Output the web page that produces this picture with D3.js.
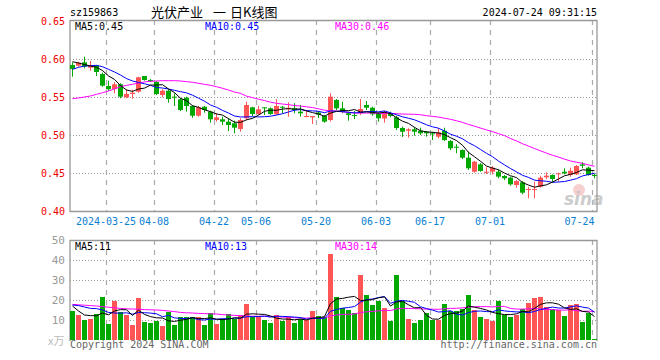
<!DOCTYPE html>
<html><head><meta charset="utf-8">
<script src="https://cdn.jsdelivr.net/npm/d3@7"></script>
<style>body{margin:0;background:#fff}svg{display:block}</style>
</head><body>
<svg id="c" width="660" height="360"></svg>
<script>
const dates = [
"2024-03-15","2024-03-18","2024-03-19","2024-03-20","2024-03-21","2024-03-22","2024-03-25","2024-03-26","2024-03-27","2024-03-28","2024-03-29",
"2024-04-01","2024-04-02","2024-04-03","2024-04-08","2024-04-09","2024-04-10","2024-04-11","2024-04-12","2024-04-15","2024-04-16","2024-04-17","2024-04-18","2024-04-19","2024-04-22","2024-04-23","2024-04-24","2024-04-25","2024-04-26","2024-04-29","2024-04-30",
"2024-05-06","2024-05-07","2024-05-08","2024-05-09","2024-05-10","2024-05-13","2024-05-14","2024-05-15","2024-05-16","2024-05-17","2024-05-20","2024-05-21","2024-05-22","2024-05-23","2024-05-24","2024-05-27","2024-05-28","2024-05-29","2024-05-30","2024-05-31",
"2024-06-03","2024-06-04","2024-06-05","2024-06-06","2024-06-07","2024-06-11","2024-06-12","2024-06-13","2024-06-14","2024-06-17","2024-06-18","2024-06-19","2024-06-20","2024-06-21","2024-06-24","2024-06-25","2024-06-26","2024-06-27","2024-06-28",
"2024-07-01","2024-07-02","2024-07-03","2024-07-04","2024-07-05","2024-07-08","2024-07-09","2024-07-10","2024-07-11","2024-07-12","2024-07-15","2024-07-16","2024-07-17","2024-07-18","2024-07-19","2024-07-22","2024-07-23","2024-07-24"];

const open = [0.5923,0.5913,0.5958,0.5887,0.5913,0.5804,0.5647,0.5608,0.5669,0.5499,0.5542,0.5572,0.5778,0.5726,0.5700,0.5529,0.5585,0.5507,0.5472,0.5493,0.5385,0.5257,0.5375,0.5310,0.5201,0.5210,0.5179,0.5158,0.5083,0.5223,0.5367,0.5280,0.5367,0.5354,0.5276,0.5375,0.5345,0.5354,0.5310,0.5244,0.5236,0.5299,0.5253,0.5201,0.5463,0.5354,0.5289,0.5266,0.5289,0.5398,0.5362,0.5289,0.5220,0.5289,0.5236,0.5096,0.5060,0.5079,0.5060,0.5047,0.5026,0.4982,0.5060,0.4925,0.4850,0.4807,0.4706,0.4522,0.4619,0.4509,0.4522,0.4522,0.4466,0.4444,0.4348,0.4383,0.4282,0.4282,0.4325,0.4449,0.4479,0.4488,0.4522,0.4479,0.4488,0.4619,0.4575,0.4479];
const high = [0.5958,0.5966,0.6031,0.5975,0.5923,0.5822,0.5717,0.5696,0.5682,0.5604,0.5598,0.5769,0.5778,0.5739,0.5709,0.5604,0.5604,0.5551,0.5486,0.5507,0.5398,0.5385,0.5385,0.5323,0.5289,0.5244,0.5223,0.5192,0.5223,0.5441,0.5375,0.5385,0.5367,0.5367,0.5473,0.5385,0.5433,0.5420,0.5398,0.5332,0.5253,0.5319,0.5266,0.5551,0.5476,0.5441,0.5310,0.5319,0.5476,0.5450,0.5375,0.5302,0.5323,0.5310,0.5257,0.5113,0.5092,0.5105,0.5100,0.5056,0.5047,0.5092,0.5100,0.4938,0.4882,0.4816,0.4785,0.4663,0.4633,0.4580,0.4597,0.4545,0.4479,0.4457,0.4413,0.4400,0.4325,0.4391,0.4470,0.4514,0.4488,0.4509,0.4567,0.4575,0.4610,0.4646,0.4588,0.4501];
const low = [0.5769,0.5900,0.5879,0.5848,0.5778,0.5638,0.5585,0.5551,0.5486,0.5486,0.5480,0.5559,0.5717,0.5700,0.5529,0.5499,0.5428,0.5385,0.5319,0.5310,0.5231,0.5244,0.5297,0.5165,0.5179,0.5135,0.5056,0.5026,0.5047,0.5201,0.5253,0.5266,0.5266,0.5266,0.5266,0.5289,0.5244,0.5289,0.5244,0.5236,0.5148,0.5227,0.5165,0.5179,0.5332,0.5289,0.5192,0.5214,0.5266,0.5332,0.5257,0.5179,0.5165,0.5236,0.5070,0.4978,0.4969,0.4995,0.5004,0.4982,0.4938,0.4961,0.4925,0.4807,0.4764,0.4689,0.4545,0.4509,0.4522,0.4492,0.4488,0.4436,0.4413,0.4339,0.4312,0.4226,0.4173,0.4173,0.4312,0.4427,0.4391,0.4391,0.4488,0.4457,0.4479,0.4567,0.4470,0.4436];
const close = [0.5870,0.5953,0.5900,0.5913,0.5831,0.5651,0.5604,0.5669,0.5507,0.5542,0.5559,0.5761,0.5726,0.5709,0.5542,0.5585,0.5476,0.5493,0.5332,0.5385,0.5257,0.5367,0.5332,0.5210,0.5236,0.5179,0.5135,0.5100,0.5201,0.5398,0.5280,0.5341,0.5354,0.5280,0.5385,0.5362,0.5362,0.5332,0.5289,0.5253,0.5253,0.5273,0.5179,0.5507,0.5354,0.5310,0.5266,0.5253,0.5345,0.5362,0.5276,0.5223,0.5306,0.5253,0.5096,0.5047,0.5079,0.5047,0.5026,0.5026,0.5013,0.5039,0.4938,0.4829,0.4837,0.4706,0.4567,0.4654,0.4532,0.4522,0.4575,0.4457,0.4436,0.4357,0.4400,0.4247,0.4295,0.4295,0.4444,0.4470,0.4427,0.4501,0.4501,0.4535,0.4597,0.4601,0.4479,0.4466];
const volume = [14.5,12.5,10,10.5,13,21.5,8,19.5,14,12.5,7.5,21,9,8.5,9.5,7,14,7.5,11.5,11.5,11.5,11.5,7.5,13.5,8,10.5,13,10.5,12.5,18,11.5,12,10,8.5,12.5,9.5,11.5,8.5,10.5,10,14.5,12,11.5,43,21.5,16,15,13.5,32.5,22.5,17.5,19.5,16,9.5,32.5,19.5,10.5,8.5,10,13.5,10,10,18,14.5,14.5,15.5,22.5,15,11.5,10.5,9.5,19.5,12.5,11.5,12.5,15.5,18.5,21,21.5,16.5,15.5,15,12,17.5,18,9,13.5,0.5];

const priceMA5Lead = [0.5966,0.5949,0.5929,0.5909];
const priceMA10Lead = [0.5866,0.5892,0.5909,0.5913,0.5918,0.5900,0.5866,0.5831,0.5791];
const priceMA30Lead = [0.5480,0.5490,0.5503,0.5516,0.5538,0.5559,0.5581,0.5608,0.5638,0.5656,0.5669,0.5686,0.5700,0.5709,0.5713,0.5717,0.5717,0.5717,0.5713,0.5704,0.5696,0.5682,0.5669,0.5656,0.5638,0.5617,0.5594,0.5568,0.5551];
const volMA5Lead = [17,14.5,12.5,12.2];
const volMA10Lead = [17.5,17.2,16.5,15.8,15.7,15.0,13.8,13.5,13.4];
const volMA30Lead = [17.8,17.6,17.4,17.2,17.0,16.7,16.4,16.1,15.8,15.6,15.5,15.4,15.2,15.1,15.0,14.8,14.5,14.2,13.8,13.6,13.5,13.3,13.2,13.1,13.0,12.7,12.5,12.3,12.2];

const priceTicks = [0.40,0.45,0.50,0.55,0.60,0.65];
const volTicks = [10,20,30,40,50];
const tickDates = ["2024-03-25","2024-04-08","2024-04-22","2024-05-06","2024-05-20","2024-06-03","2024-06-17","2024-07-01","2024-07-24"];
const tickLabels = ["2024-03-25","04-08","04-22","05-06","05-20","06-03","06-17","07-01","07-24"];
const priceMaLabels = ["MA5:0.45","MA10:0.45","MA30:0.46"];
const volMaLabels = ["MA5:11","MA10:13","MA30:14"];
const symbol = "sz159863";
const titleParts = ["光伏产业","一","日K线图"];
const stamp = "2024-07-24 09:31:15";

function movingAvg(arr, n, lead) {
  return arr.map((v, i) => i < n - 1 ? lead[i] : d3.mean(arr.slice(i - n + 1, i + 1)));
}

const RED = "#ff5555", GREEN = "#00a800";
const maColors = ["#000000", "#0000ff", "#ff00ff"];
const mono = "'DejaVu Sans Mono', monospace";
const L = 70, R = 597;
const svg = d3.select("#c");

const x = d3.scaleBand().domain(dates).range([L, R]).paddingInner(1/6).paddingOuter(0);
const bw = x.bandwidth();
const y = d3.scaleLinear().domain([0.40, 0.65]).range([211.5, 21]);
const yv = d3.scaleLinear().domain([0, 50]).range([340, 240]);

const grid = svg.append("g");
// horizontal dotted grid
grid.selectAll(".hp").data(priceTicks.filter(t => t > 0.40 && t < 0.65)).join("line")
  .attr("x1", L).attr("x2", R).attr("y1", d => Math.round(y(d)) + 0.5).attr("y2", d => Math.round(y(d)) + 0.5)
  .attr("stroke", "#999").attr("stroke-dasharray", "1,2");
grid.selectAll(".hv").data(volTicks.filter(t => t < 50)).join("line")
  .attr("x1", L).attr("x2", R).attr("y1", d => Math.round(yv(d)) + 0.5).attr("y2", d => Math.round(yv(d)) + 0.5)
  .attr("stroke", "#999").attr("stroke-dasharray", "1,2");
// vertical dashed grid
tickDates.forEach(d => {
  const xx = x(d) + 0.5;
  grid.append("line").attr("x1", xx).attr("x2", xx).attr("y1", 20).attr("y2", 211)
    .attr("stroke", "#aaa").attr("stroke-width", 1.2).attr("stroke-dasharray", "5,5");
  grid.append("line").attr("x1", xx).attr("x2", xx).attr("y1", 240).attr("y2", 340)
    .attr("stroke", "#aaa").attr("stroke-width", 1.2).attr("stroke-dasharray", "5,5");
});

// watermark
svg.append("circle").attr("cx", 579).attr("cy", 190).attr("r", 6).attr("fill", "#f7cfcf");
svg.append("text").attr("x", 564).attr("y", 205).text("sina")
  .attr("font-family", "'DejaVu Sans', sans-serif").attr("font-size", 17).attr("font-style", "italic")
  .attr("font-weight", "bold").attr("fill", "#c4c4c4").attr("opacity", 0.85);

// frames
svg.append("path").attr("d", `M${L},20.5H${R}V211.5H${L}Z`).attr("fill", "none").attr("stroke", "#999").attr("stroke-width", 1.3);
svg.append("path").attr("d", `M${L},341V240.5H${R}V341`).attr("fill", "none").attr("stroke", "#999").attr("stroke-width", 1.3);

// candles
const idx = d3.range(dates.length);
const col = i => close[i] >= open[i] ? RED : GREEN;
const cg = svg.append("g");
cg.selectAll("line").data(idx).join("line")
  .attr("x1", i => x(dates[i]) + bw / 2).attr("x2", i => x(dates[i]) + bw / 2)
  .attr("y1", i => y(high[i])).attr("y2", i => y(low[i]))
  .attr("stroke", col).attr("stroke-width", 1);
cg.selectAll("rect").data(idx).join("rect")
  .attr("x", i => x(dates[i])).attr("width", bw)
  .attr("y", i => y(Math.max(open[i], close[i])))
  .attr("height", i => Math.max(1, Math.abs(y(open[i]) - y(close[i]))))
  .attr("fill", col);

// volume bars
svg.append("g").selectAll("rect").data(idx).join("rect")
  .attr("x", i => x(dates[i])).attr("width", bw)
  .attr("y", i => yv(volume[i])).attr("height", i => yv(0) - yv(volume[i]))
  .attr("fill", col);

// MA lines
const pMAs = [movingAvg(close, 5, priceMA5Lead), movingAvg(close, 10, priceMA10Lead), movingAvg(close, 30, priceMA30Lead)];
const vMAs = [movingAvg(volume, 5, volMA5Lead), movingAvg(volume, 10, volMA10Lead), movingAvg(volume, 30, volMA30Lead)];
const order = [2, 1, 0];
order.forEach(k => {
  svg.append("path").datum(pMAs[k])
    .attr("d", d3.line().x((d, i) => x(dates[i]) + bw / 2).y(d => y(d)))
    .attr("fill", "none").attr("stroke", maColors[k]).attr("stroke-width", 1);
  svg.append("path").datum(vMAs[k])
    .attr("d", d3.line().x((d, i) => x(dates[i]) + bw / 2).y(d => yv(d)))
    .attr("fill", "none").attr("stroke", maColors[k]).attr("stroke-width", 1);
});

// axes
const ax = svg.append("g").attr("transform", `translate(${L},0)`)
  .call(d3.axisLeft(y).tickValues(priceTicks).tickFormat(d3.format(".2f")).tickSize(0).tickPadding(5));
ax.select(".domain").remove();
ax.selectAll("text").attr("font-family", mono).attr("font-size", 10).attr("fill", "#ee0000");

const av = svg.append("g").attr("transform", `translate(${L},0)`)
  .call(d3.axisLeft(yv).tickValues(volTicks).tickSize(0).tickPadding(5));
av.select(".domain").remove();
av.selectAll("text").attr("font-family", mono).attr("font-size", 11).attr("fill", "#999");

const axd = svg.append("g").attr("transform", `translate(${-bw / 2},211)`)
  .call(d3.axisBottom(x).tickValues(tickDates).tickFormat((d, i) => tickLabels[i]).tickSize(0).tickPadding(7));
axd.select(".domain").remove();
axd.selectAll("text").attr("font-family", mono).attr("font-size", 10).attr("fill", "#0a80d0");
axd.selectAll(".tick:last-of-type text").attr("text-anchor", "end").attr("x", bw / 2);

// header texts
const txt = (s, xx, yy, fill, anchor, size, fam) => svg.append("text").attr("x", xx).attr("y", yy).text(s)
  .attr("font-family", fam || mono).attr("font-size", size || 10).attr("fill", fill || "#000")
  .attr("text-anchor", anchor || "start");
txt(symbol, 70, 16);
txt(stamp, 597, 16, "#000", "end");
const cjk = "'Noto Sans CJK SC', sans-serif";
txt(titleParts[0], 151, 17, "#000", "start", 13, cjk);
txt(titleParts[1], 213, 17, "#000", "start", 13, cjk);
txt(titleParts[2], 230, 17, "#000", "start", 13, cjk);
const maX = [75, 205, 335];
priceMaLabels.forEach((s, k) => txt(s, maX[k], 30, maColors[k]));
volMaLabels.forEach((s, k) => txt(s, maX[k], 250, maColors[k]));
txt("Copyright 2024 SINA.COM", 70, 348, "#666");
txt("http://finance.sina.com.cn", 597, 348, "#666", "end");
txt("x万", 48, 345, "#bbb", "start", 11, cjk);
</script>
</body></html>
